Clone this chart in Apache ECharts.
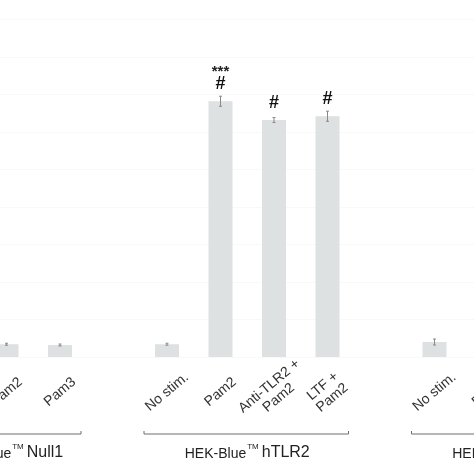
<!DOCTYPE html>
<html>
<head>
<meta charset="utf-8">
<script src="https://cdn.jsdelivr.net/npm/echarts@6/dist/echarts.min.js"></script>
<style>
  html, body { margin: 0; padding: 0; background: #ffffff; }
  #chart { width: 474px; height: 474px; }
</style>
</head>
<body>
<div id="chart"></div>
<script>
// ---- data (cropped figure) ----
const categories = ['No stim.', 'Pam2', 'Pam3', '', 'No stim.', 'Pam2', 'Anti-TLR2 +\nPam2', 'LTF +\nPam2', '', 'No stim.', 'Pam2', '', ''];
const values     = [null, 0.17, 0.16, null, 0.17, 3.41, 3.16, 3.21, null, 0.20, null, null, null];
const errors     = [null, 0.013, 0.013, null, 0.013, 0.067, 0.033, 0.067, null, 0.04, null, null, null];
const marks      = ['', '', '', '', '', '***\n#', '#', '#', '', '', '', '', ''];
const groupNames = ['Null1', 'hTLR2', 'hTLR4'];
const groupStart = [0, 4, 9];
const groupEnd   = [2, 7, 12];
const yTicks     = { min: 0, max: 4.5, interval: 0.5 };

const FONT = 'Liberation Sans, Arial, sans-serif';
const chart = echarts.init(document.getElementById('chart'), null, { renderer: 'canvas' });

const option = {
  backgroundColor: '#ffffff',
  animation: false,
  grid: {
    left: -73.75, right: -147.75, top: 19.5, bottom: 117,
    containLabel: false, outerBoundsMode: 'none'
  },
  xAxis: {
    type: 'category',
    data: categories,
    axisLine: { show: false },
    axisTick: { show: false },
    axisLabel: {
      interval: 0,
      rotate: 40,
      align: 'center',
      verticalAlign: 'middle',
      margin: 35,
      fontSize: 14,
      lineHeight: 15,
      color: '#333333',
      fontFamily: FONT
    }
  },
  yAxis: {
    type: 'value',
    min: yTicks.min, max: yTicks.max, interval: yTicks.interval,
    axisLine: { show: false },
    axisTick: { show: false },
    axisLabel: { show: false },
    splitLine: { show: true, lineStyle: { color: '#f8f8f8', width: 1 } }
  },
  series: [
    {
      type: 'bar',
      data: values,
      barWidth: 24,
      itemStyle: { color: '#dde1e1' },
      label: {
        show: true,
        position: 'top',
        distance: 8,
        formatter: function (p) {
          const m = marks[p.dataIndex];
          if (!m) return '';
          return m.split('\n').map(function (s) { return s === '#' ? '{h|#}' : '{s|' + s + '}'; }).join('\n');
        },
        rich: {
          s: { fontSize: 15, fontWeight: 'bold', lineHeight: 13, color: '#222', fontFamily: FONT, padding: [6, 0, 0, 0] },
          h: { fontSize: 18, fontWeight: 'bold', lineHeight: 18, color: '#111', fontFamily: FONT }
        }
      },
      z: 2
    },
    {
      type: 'custom',
      data: values.map(function (v, i) { return [i, v]; }),
      renderItem: function (params, api) {
        const i = params.dataIndex;
        const v = values[i], e = errors[i];
        if (v == null || e == null) return null;
        const hi = api.coord([i, v + e]);
        const lo = api.coord([i, v - e]);
        const cap = 1.5;
        const st = { stroke: '#8a8a8a', lineWidth: 1 };
        return {
          type: 'group',
          children: [
            { type: 'line', shape: { x1: hi[0], y1: hi[1], x2: lo[0], y2: lo[1] }, style: st },
            { type: 'line', shape: { x1: hi[0] - cap, y1: hi[1], x2: hi[0] + cap, y2: hi[1] }, style: st },
            { type: 'line', shape: { x1: lo[0] - cap, y1: lo[1], x2: lo[0] + cap, y2: lo[1] }, style: st }
          ]
        };
      },
      z: 3,
      silent: true
    },
    {
      type: 'custom',
      clip: false,
      data: groupStart.map(function (s) { return [s, 0]; }),
      renderItem: function (params, api) {
        const g = params.dataIndex;
        const a = api.coord([groupStart[g], 0]);
        const b = api.coord([groupEnd[g], 0]);
        const y0 = a[1];
        const ly = y0 + 77;
        const x1 = a[0] - 23, x2 = b[0] + 21;
        return {
          type: 'group',
          children: [
            {
              type: 'polyline',
              shape: { points: [[x1, ly - 3], [x1, ly], [x2, ly], [x2, ly - 3]] },
              style: { stroke: '#6f6f6f', lineWidth: 1, fill: null }
            },
            {
              type: 'text',
              style: {
                x: (a[0] + b[0]) / 2, y: y0 + 95,
                text: '{a|HEK-Blue}{t|TM}{b|' + groupNames[g] + '}',
                align: 'center', verticalAlign: 'middle',
                rich: {
                  a: { fontSize: 14, fontFamily: FONT, fill: '#222', verticalAlign: 'bottom', lineHeight: 18 },
                  t: { fontSize: 8, fontFamily: FONT, fill: '#222', verticalAlign: 'top', padding: [0, 3, 8, 1], lineHeight: 18 },
                  b: { fontSize: 16, fontFamily: FONT, fill: '#222', verticalAlign: 'bottom', lineHeight: 18 }
                }
              }
            }
          ]
        };
      },
      silent: true
    }
  ]
};
chart.setOption(option);
</script>
</body>
</html>
